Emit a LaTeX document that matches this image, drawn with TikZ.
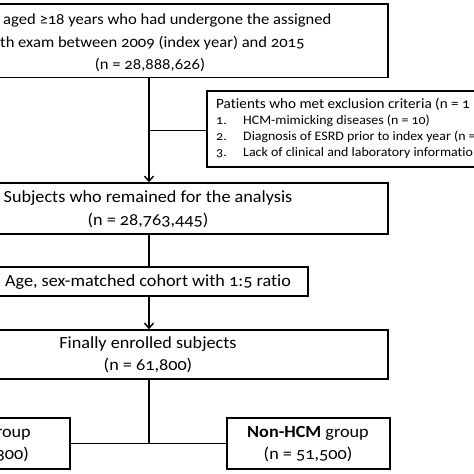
\documentclass[tikz,border=0pt]{standalone}
\usepackage{fontspec}
\setmainfont{Carlito}[Numbers=OldStyle, Ligatures=NoCommon, FakeStretch=1.07]
\usetikzlibrary{arrows.meta,calc}
\tikzset{
  box/.style={draw, line width=1.6pt, rectangle, inner sep=0pt},
  conn/.style={line width=1.4pt},
  arr/.style={conn, -{Straight Barb[length=5pt,width=9pt,line width=1.4pt]}},
  txt/.style={inner sep=0pt, font=\fontsize{17}{20}\selectfont},
  toptxt/.style={inner sep=0pt, font=\fontsize{15.5}{19}\selectfont},
  small/.style={inner sep=0pt, font=\fontsize{13}{15}\selectfont},
  head/.style={inner sep=0pt, font=\fontsize{14.2}{17}\selectfont},
}
\begin{document}
\begin{tikzpicture}[x=1pt,y=-1pt]
\useasboundingbox (0,0) rectangle (474,474);
\clip (0,0) rectangle (474,474);
% boxes
\node[box, minimum width=478pt, minimum height=73.5pt] (top) at (149,40.75) {};
\node[box, minimum width=333pt, minimum height=76pt] (excl) at (373.5,129) {};
\node[box, minimum width=478pt, minimum height=51pt] (subj) at (149,208.5) {};
\node[box, minimum width=318pt, minimum height=29pt] (age) at (149,281.5) {};
\node[box, minimum width=478pt, minimum height=49pt] (fin) at (149,354.5) {};
\node[box, minimum width=163pt, minimum height=51pt] (hcm) at (-11.5,443.5) {};
\node[box, minimum width=163pt, minimum height=51pt] (non) at (308.5,443.5) {};
% texts
\node[toptxt, anchor=base west] (t1) at (3,24) {aged ≥18 years who had undergone the assigned};
\node[toptxt, anchor=base west] (t2) at (0,47) {th exam between 2009 (index year) and 2015};
\node[toptxt, anchor=base] (t3) at (150,69) {(n = 28,888,626)};
\node[head, anchor=base west] (e0) at (216,108) {Patients who met exclusion criteria (n = 1};
\node[small, anchor=base west] (e1n) at (216,124) {1.};
\node[small, anchor=base west] (e1) at (243,124) {HCM-mimicking diseases (n = 10)};
\node[small, anchor=base west] (e2n) at (216,140) {2.};
\node[small, anchor=base west] (e2) at (243,140) {Diagnosis of ESRD prior to index year (n =};
\node[small, anchor=base west] (e3n) at (216,156) {3.};
\node[small, anchor=base west] (e3) at (243,156) {Lack of clinical and laboratory informatio};
\node[txt, anchor=base] (s1) at (148,202) {Subjects who remained for the analysis};
\node[txt, anchor=base] (s2) at (148,225) {(n = 28,763,445)};
\node[txt, anchor=base] (a1) at (148,286) {Age, sex-matched cohort with 1:5 ratio};
\node[txt, anchor=base] (f1) at (148,348) {Finally enrolled subjects};
\node[txt, anchor=base] (f2) at (148,370) {(n = 61,800)};
\node[txt, anchor=base east] (h1) at (31,437) {roup};
\node[txt, anchor=base east] (h2) at (29,459) {300)};
\node[txt, anchor=base] (n1) at (308,437) {\textbf{Non-HCM} group};
\node[txt, anchor=base] (n2) at (308,459) {(n = 51,500)};
% connectors
\coordinate (j1) at ($(top.south)!0.5!(subj.north)$);
\draw[arr] (top.south) -- (subj.north);
\draw[conn] (j1) -- (j1 -| excl.west);
\draw[conn] (subj.south) -- (age.north);
\draw[arr] (age.south) -- (fin.north);
\coordinate (j2) at (fin.south |- hcm.east);
\draw[conn] (fin.south) -- (j2);
\draw[conn] (hcm.east) -- (non.west);
\end{tikzpicture}
\end{document}
